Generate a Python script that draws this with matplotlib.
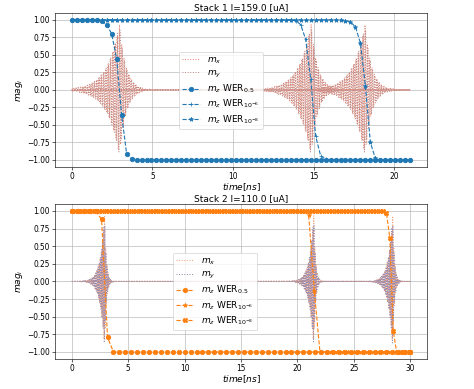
import numpy as np
import matplotlib
matplotlib.use("Agg")
import matplotlib.pyplot as plt

# ---------------- data ----------------
# Stack 1 (I = 159.0 uA)
s1_title = "Stack 1 I=159.0 [uA]"
s1_t_end = 21.0
s1_n_pts = 69
s1_mz_wer05 = [1.0] * 6 + [0.98, 0.93, 0.80, 0.44, -0.36, -0.91, -0.99] + [-1.0] * 56
s1_mz_wer1e6 = [1.0] * 45 + [0.99, 0.93, 0.72, 0.16, -0.66, -0.94, -0.99] + [-1.0] * 17
s1_mz_wer1e8 = [1.0] * 55 + [0.99, 0.97, 0.90, 0.67, 0.06, -0.75, -0.98] + [-1.0] * 7
s1_burst_times = [2.95, 14.85, 18.2]   # ns, peak of m_x/m_y precession
s1_burst_rise = 0.75                   # ns
s1_burst_fall = 0.40                   # ns
s1_burst_peak = 0.93
s1_prec_freq = 7.0                     # GHz
s1_xticks = [0, 5, 10, 15, 20]

# Stack 2 (I = 110.0 uA)
s2_title = "Stack 2 I=110.0 [uA]"
s2_t_end = 30.0
s2_n_pts = [58, 61, 101]
s2_mz_wer05 = [1.0] * 5 + [0.88, -0.79] + [-1.0] * 51
s2_mz_wer1e6 = [1.0] * 42 + [0.94, -0.14] + [-1.0] * 17
s2_mz_wer1e8 = [1.0] * 93 + [0.97, 0.61, -0.70] + [-1.0] * 5
s2_burst_times = [2.9, 21.45, 28.45]
s2_burst_rise = 0.38
s2_burst_fall = 0.15
s2_burst_peak = 0.93
s2_prec_freq = 10.0
s2_xticks = [0, 5, 10, 15, 20, 25, 30]

yticks = [-1.0, -0.75, -0.5, -0.25, 0.0, 0.25, 0.5, 0.75, 1.0]
labels_mz = [r"$m_z$ WER$_{0.5}$", r"$m_z$ WER$_{10^{-6}}$", r"$m_z$ WER$_{10^{-8}}$"]

# ---------------- figure ----------------
DPI = 54
fig = plt.figure(figsize=(474 / DPI, 389 / DPI), dpi=DPI)
ax1 = fig.add_axes([0.116, 0.571, 0.785, 0.396])
ax2 = fig.add_axes([0.116, 0.077, 0.785, 0.399])


def precession(t, t0, rise, fall, peak, freq):
    env = peak * np.where(t < t0, np.exp((t - t0) / rise), np.exp(-(t - t0) / fall))
    ph = 2 * np.pi * freq * (t - t0)
    return env * np.cos(ph), env * np.sin(ph)


def draw(ax, title, t_end, n_pts, mz_list, markers, burst_times, rise, fall, peak, freq,
         c_mz, c_mx, c_my, xticks, legend_anchor):
    t = np.arange(0, t_end + 1e-9, 0.003)
    for i, t0 in enumerate(burst_times):
        mx, my = precession(t, t0, rise, fall, peak, freq)
        ax.plot(t, mx, ls=":", color=c_mx, lw=1.3, label=r"$m_x$" if i == 0 else None)
        ax.plot(t, my, ls=":", color=c_my, lw=1.3, label=r"$m_y$" if i == 0 else None)
    for mz, n, mk, lab in zip(mz_list, n_pts, markers, labels_mz):
        tt = np.linspace(0, t_end, n)
        ax.plot(tt, mz, ls="--", marker=mk, color=c_mz, label=lab)
    ax.set_title(title, fontsize=12, pad=4)
    ax.set_xlabel(r"$time[ns]$", fontsize=12, labelpad=0)
    ax.set_ylabel(r"$mag_i$", fontsize=12, labelpad=2)
    ax.set_xticks(xticks)
    ax.set_yticks(yticks)
    ax.grid(True)
    ax.legend(loc="center", bbox_to_anchor=legend_anchor, fontsize=12, labelspacing=0.3)


draw(ax1, s1_title, s1_t_end, [s1_n_pts] * 3, [s1_mz_wer05, s1_mz_wer1e6, s1_mz_wer1e8],
     ["o", "+", "*"], s1_burst_times, s1_burst_rise, s1_burst_fall, s1_burst_peak, s1_prec_freq,
     "#1f77b4", "#e2826c", "#c08c8c", s1_xticks, (0.446, 0.496))
draw(ax2, s2_title, s2_t_end, s2_n_pts, [s2_mz_wer05, s2_mz_wer1e6, s2_mz_wer1e8],
     ["o", "*", "X"], s2_burst_times, s2_burst_rise, s2_burst_fall, s2_burst_peak, s2_prec_freq,
     "#ff7f0e", "#eea078", "#9a8cb0", s2_xticks, (0.43, 0.434))

fig.savefig("out.png", dpi=DPI)
